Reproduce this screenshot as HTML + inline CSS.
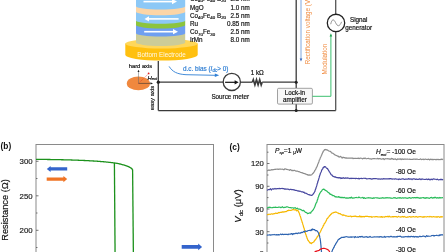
<!DOCTYPE html>
<html><head><meta charset="utf-8"><style>
html,body{margin:0;padding:0;background:#fff;width:448px;height:252px;overflow:hidden}
svg{display:block}
text{font-family:"Liberation Sans",Arial,sans-serif;stroke-width:0.18px}
</style></head><body>
<svg width="448" height="252" viewBox="0 0 448 252">
<!-- ============ PANEL A ============ -->
<!-- bottom electrode -->
<path d="M125.3,43.6 L125.3,54.8 A36.2,5.8 0 0 0 197.7,54.8 L197.7,43.6 Z" fill="#ffc010"/>
<ellipse cx="161.5" cy="43.6" rx="36.2" ry="4.9" fill="#ffd75a"/>
<text x="161.5" y="57.3" font-size="6.3" fill="#fff" text-anchor="middle" opacity="0.9">Bottom Electrode</text>
<!-- stack layers -->
<path d="M136,33.2 L136,42.5 A24.6,3.4 0 0 0 185.2,42.5 L185.2,33.2 Z" fill="#cccc98"/>
<path d="M136,25.0 L136,33.2 A24.6,3.4 0 0 0 185.2,33.2 L185.2,25.0 Z" fill="#6f9ff0"/>
<path d="M136,20.4 L136,25.0 A24.6,3.4 0 0 0 185.2,25.0 L185.2,20.4 Z" fill="#8cc43e"/>
<path d="M136,11.8 L136,20.4 A24.6,3.4 0 0 0 185.2,20.4 L185.2,11.8 Z" fill="#8cc8f6"/>
<path d="M136,6.2 L136,11.8 A24.6,3.4 0 0 0 185.2,11.8 L185.2,6.2 Z" fill="#fcd5a6"/>
<path d="M136,-10 L136,6.2 A24.6,3.4 0 0 0 185.2,6.2 L185.2,-10 Z" fill="#8cc8f6"/>
<!-- white arrows -->
<g stroke="#fff" stroke-width="1.6" fill="#fff">
<line x1="143.5" y1="1.6" x2="173" y2="1.6"/><path d="M172,-1 L177,1.6 L172,4.2 Z" stroke="none"/>
<line x1="148" y1="18.9" x2="178.6" y2="18.9"/><path d="M149,16.3 L144.5,18.9 L149,21.5 Z" stroke="none"/>
<line x1="144.2" y1="31.7" x2="174" y2="31.7"/><path d="M173,29.1 L178,31.7 L173,34.3 Z" stroke="none"/>
</g>
<!-- layer labels -->
<g font-size="6.3" fill="#111" stroke="#111">
<text x="190" y="0.8">Co<tspan font-size="4.4" dy="1.4">40</tspan><tspan dy="-1.4">Fe</tspan><tspan font-size="4.4" dy="1.4">40</tspan><tspan dy="-1.4"> B</tspan><tspan font-size="4.4" dy="1.4">20</tspan></text>
<text x="190" y="9.5">MgO</text>
<text x="190" y="17.7">Co<tspan font-size="4.4" dy="1.4">40</tspan><tspan dy="-1.4">Fe</tspan><tspan font-size="4.4" dy="1.4">40</tspan><tspan dy="-1.4"> B</tspan><tspan font-size="4.4" dy="1.4">20</tspan></text>
<text x="190" y="25.9">Ru</text>
<text x="190" y="34.1">Co<tspan font-size="4.4" dy="1.4">70</tspan><tspan dy="-1.4">Fe</tspan><tspan font-size="4.4" dy="1.4">30</tspan></text>
<text x="190" y="42.3">IrMn</text>
</g>
<g font-size="6.3" fill="#111" text-anchor="end" stroke="#111">
<text x="249.8" y="0.8">2.5 nm</text>
<text x="249.8" y="9.5">1.0 nm</text>
<text x="249.8" y="17.7">2.5 nm</text>
<text x="249.8" y="25.9">0.85 nm</text>
<text x="249.8" y="34.1">2.5 nm</text>
<text x="249.8" y="42.3">8.0 nm</text>
</g>
<!-- anisotropy ellipse -->
<ellipse cx="138.4" cy="83.4" rx="11.6" ry="6.9" fill="#f0883e"/>
<text x="128.8" y="67.9" font-size="5.75" fill="#111" stroke="#111">hard axis</text>
<line x1="138.5" y1="83.4" x2="138.5" y2="71.5" stroke="#666" stroke-width="0.5"/>
<path d="M137.5,72 L138.5,69.8 L139.5,72 Z" fill="#222"/>
<line x1="138.5" y1="83.4" x2="151" y2="83.4" stroke="#333" stroke-width="0.6"/>
<path d="M150.5,82.2 L153,83.4 L150.5,84.6 Z" fill="#222"/>
<line x1="138.5" y1="83.4" x2="148.2" y2="74" stroke="#e02020" stroke-width="0.5" stroke-dasharray="1,0.8"/>
<circle cx="148.6" cy="73.4" r="0.9" fill="#e02020"/>
<text x="147.4" y="79.5" font-size="6" font-style="italic" fill="#111" stroke="#111">H<tspan font-size="4" dy="0.7">ext</tspan></text>
<text transform="translate(153.7,110.3) rotate(-90)" font-size="5.85" fill="#111" stroke="#111">easy axis</text>
<!-- circuit -->
<g stroke="#3a3a3a" stroke-width="1.3" fill="none">
<line x1="158.3" y1="61" x2="158.3" y2="110.6"/>
<line x1="158.3" y1="110.6" x2="335.8" y2="110.6"/>
<line x1="158.3" y1="82.2" x2="223.2" y2="82.2"/>
<line x1="240.7" y1="82.2" x2="252.3" y2="82.2"/>
<polyline stroke-width="1.6" stroke-linejoin="miter" points="252.3,82.2 253.3,79.6 254.9,85 256.5,79.6 258.1,85 259.7,79.6 261.2,85 262.2,82.2"/>
<line x1="262.2" y1="82.2" x2="296.2" y2="82.2"/>
<line x1="296.2" y1="-2" x2="296.2" y2="88.3"/>
<line x1="296.2" y1="104.1" x2="296.2" y2="110.6"/>
<circle cx="231.8" cy="81.9" r="8.6"/>
</g>
<g stroke="#555" stroke-width="1.3" fill="none">
<line x1="335.7" y1="-2" x2="335.7" y2="14.3"/>
<line x1="335.7" y1="31.7" x2="335.7" y2="110.6"/>
<circle cx="336" cy="22.95" r="8.7" stroke="#222"/>
<path d="M330.7,24.2 C332,19 333.5,18.5 335.5,22.5 C337.5,26.8 339.5,27 341.6,21.8" stroke="#777" stroke-width="0.8"/>
</g>
<line x1="225.1" y1="82.3" x2="236" y2="82.3" stroke="#111" stroke-width="1.2"/>
<path d="M234.6,80.2 L238.7,82.3 L234.6,84.5 Z" fill="#111"/>
<g fill="#222"><circle cx="158.3" cy="82.2" r="1.6"/><circle cx="296.2" cy="82.2" r="1.5"/><circle cx="296.2" cy="110.6" r="1.5"/></g>
<rect x="277.5" y="88.3" width="34.9" height="15.8" rx="1.2" fill="#f7f7f7" stroke="#8a8a8a" stroke-width="0.8"/>
<g font-size="6.3" fill="#111" text-anchor="middle" stroke="#111">
<text x="294.9" y="95">Lock-in</text>
<text x="294.9" y="101.8">amplifier</text>
<text x="257.2" y="74.6">1 kΩ</text>
<text x="230.3" y="99.2">Source meter</text>
<text x="358.7" y="22">Signal</text>
<text x="358.7" y="29.8">generator</text>
</g>
<!-- dc bias -->
<path d="M169.1,66.4 C172.5,71.8 177,74.2 186,74.7 L215,75.3" stroke="#2f7fd4" stroke-width="0.9" fill="none"/>
<path d="M214.8,73.6 L219.2,75.3 L214.8,77 Z" fill="#2f7fd4"/>
<text x="182.9" y="71" font-size="6.4" fill="#2f7fd4" stroke="#2f7fd4">d.c. bias (<tspan font-style="italic">I</tspan><tspan font-size="4.6" dy="1.3" font-style="italic">dc</tspan><tspan dy="-1.3">&gt; 0)</tspan></text>
<!-- lock-in lines -->
<line x1="301" y1="-2" x2="301" y2="59" stroke="#7ea6df" stroke-width="1"/>
<path d="M299.7,58.5 L301,61.5 L302.3,58.5 Z" fill="#2d5fb8"/>
<polyline points="312.4,96.3 330.9,96.3 330.9,36" stroke="#3cc070" stroke-width="1" fill="none"/>
<path d="M329.6,36.5 L330.9,33.3 L332.2,36.5 Z" fill="#1c9e4c"/>
<text transform="translate(309.9,64.3) rotate(-90)" font-size="6.3" fill="#f0893c">Rectification voltage (V)</text>
<text transform="translate(326.9,74.6) rotate(-90)" font-size="6.3" fill="#f0893c">Modulation</text>

<!-- ============ PANEL B ============ -->
<text x="0.5" y="149" font-size="8.4" font-weight="bold" fill="#111">(b)</text>
<rect x="36" y="144.5" width="177.5" height="120" fill="none" stroke="#8a8a8a" stroke-width="1"/>
<g stroke="#555" stroke-width="0.8">
<line x1="36" y1="161.3" x2="38.5" y2="161.3"/><line x1="36" y1="195.8" x2="38.5" y2="195.8"/><line x1="36" y1="230.3" x2="38.5" y2="230.3"/>
<line x1="36" y1="178.5" x2="37.5" y2="178.5"/><line x1="36" y1="213" x2="37.5" y2="213"/><line x1="36" y1="247.5" x2="37.5" y2="247.5"/>
</g>
<g font-size="7.8" fill="#222" text-anchor="end" stroke="#222">
<text x="32.6" y="164.1">300</text>
<text x="32.6" y="198.6">250</text>
<text x="32.6" y="233.1">200</text>
</g>
<text transform="translate(7.9,240.8) rotate(-90)" font-size="9.3" fill="#111" stroke="#111">Resistance (Ω)</text>
<g stroke="#1c911c" stroke-width="1.3" fill="none">
<path d="M36.00,159.30 L36.38,159.31 L36.79,159.31 L37.25,159.32 L37.75,159.33 L38.28,159.34 L38.85,159.34 L39.45,159.35 L40.08,159.36 L40.74,159.37 L41.42,159.38 L42.13,159.39 L42.86,159.40 L43.61,159.41 L44.37,159.43 L45.15,159.44 L45.95,159.45 L46.75,159.46 L47.56,159.48 L48.38,159.49 L49.21,159.50 L50.03,159.51 L50.86,159.53 L51.68,159.54 L52.50,159.56 L53.32,159.57 L54.12,159.58 L54.91,159.60 L55.70,159.61 L56.46,159.63 L57.21,159.64 L57.94,159.66 L58.65,159.67 L59.34,159.69 L60.00,159.70 L60.78,159.72 L61.56,159.74 L62.34,159.75 L63.11,159.77 L63.88,159.79 L64.64,159.81 L65.40,159.83 L66.15,159.85 L66.90,159.87 L67.64,159.89 L68.38,159.91 L69.11,159.93 L69.84,159.95 L70.56,159.97 L71.28,160.00 L71.99,160.02 L72.69,160.04 L73.39,160.06 L74.08,160.09 L74.77,160.11 L75.45,160.13 L76.12,160.15 L76.78,160.18 L77.44,160.20 L78.09,160.23 L78.73,160.25 L79.37,160.28 L80.00,160.30 L80.83,160.33 L81.64,160.37 L82.45,160.40 L83.24,160.44 L84.02,160.48 L84.80,160.51 L85.56,160.55 L86.30,160.59 L87.04,160.63 L87.77,160.67 L88.48,160.71 L89.18,160.75 L89.88,160.79 L90.56,160.83 L91.22,160.87 L91.88,160.91 L92.53,160.94 L93.16,160.98 L93.79,161.02 L94.40,161.06 L95.00,161.10 L95.87,161.16 L96.70,161.21 L97.48,161.27 L98.24,161.32 L98.97,161.38 L99.67,161.43 L100.35,161.48 L101.02,161.54 L101.68,161.60 L102.33,161.65 L102.99,161.71 L103.65,161.77 L104.32,161.84 L105.00,161.90 L105.75,161.97 L106.52,162.05 L107.29,162.13 L108.06,162.20 L108.83,162.29 L109.60,162.37 L110.35,162.45 L111.09,162.53 L111.81,162.62 L112.50,162.70 L113.17,162.79 L113.80,162.87 L114.40,162.95 L115.29,163.08 L116.08,163.20 L116.80,163.33 L117.48,163.45 L118.11,163.58 L118.73,163.71 L119.35,163.85 L120.00,164.00 L120.75,164.18 L121.50,164.37 L122.24,164.57 L122.96,164.77 L123.66,164.98 L124.34,165.19 L125.00,165.40 L125.74,165.64 L126.46,165.89 L127.15,166.14 L127.81,166.39 L128.43,166.64 L129.00,166.90 L129.79,167.30 L130.49,167.71 L131.10,168.12 L131.60,168.50 L132.26,169.25 L132.60,169.80"/>
<line x1="114.4" y1="162.9" x2="115.1" y2="256"/>
<line x1="132.6" y1="169.6" x2="133.4" y2="256"/>
</g>
<!-- big arrows -->
<path d="M67.2,167.2 L50.6,167.2 L50.6,166 L46.8,168.9 L50.6,172 L50.6,170.6 L67.2,170.6 Z" fill="#3464cc"/>
<path d="M46.7,177.4 L63.4,177.4 L63.4,176 L67.2,179.1 L63.4,182.2 L63.4,180.8 L46.7,180.8 Z" fill="#f07424"/>
<path d="M181.7,245 L198.2,245 L198.2,243.6 L202.1,246.9 L198.2,250.3 L198.2,248.7 L181.7,248.7 Z" fill="#3464cc"/>

<!-- ============ PANEL C ============ -->
<text x="229.5" y="150.2" font-size="8.4" font-weight="bold" fill="#111">(c)</text>
<rect x="267" y="144.5" width="177" height="120" fill="none" stroke="#8a8a8a" stroke-width="1"/>
<g stroke="#555" stroke-width="0.8">
<line x1="267" y1="163.5" x2="269.5" y2="163.5"/><line x1="267" y1="186.3" x2="269.5" y2="186.3"/><line x1="267" y1="209" x2="269.5" y2="209"/><line x1="267" y1="231.7" x2="269.5" y2="231.7"/>
<line x1="267" y1="152.2" x2="268.5" y2="152.2"/><line x1="267" y1="175" x2="268.5" y2="175"/><line x1="267" y1="197.6" x2="268.5" y2="197.6"/><line x1="267" y1="220.3" x2="268.5" y2="220.3"/><line x1="267" y1="243" x2="268.5" y2="243"/>
</g>
<g font-size="7.7" fill="#222" text-anchor="end" stroke="#222">
<text x="263.8" y="166.3">120</text>
<text x="263.8" y="189.1">90</text>
<text x="263.8" y="211.8">60</text>
<text x="263.8" y="234.5">30</text>
<text x="263.8" y="256.4">0</text>
</g>
<text transform="translate(241.1,222.7) rotate(-90)" font-size="9.5" fill="#111" stroke="#111"><tspan font-style="italic">V</tspan><tspan font-size="6" dy="1.8">dc</tspan><tspan dy="-1.8"> (μV)</tspan></text>
<g fill="none" stroke-width="1.2" stroke-linejoin="round">
<path d="M267.00,170.59 L267.46,170.63 L268.08,170.41 L268.81,169.88 L269.62,170.30 L270.49,170.05 L271.36,169.68 L272.21,169.84 L273.00,169.69 L273.75,169.60 L274.50,169.46 L275.25,169.52 L276.00,169.15 L276.75,169.24 L277.50,169.13 L278.25,169.37 L279.00,169.21 L279.75,169.12 L280.50,169.00 L281.25,169.15 L282.00,169.24 L282.75,169.20 L283.50,169.63 L284.25,169.60 L285.00,168.72 L285.75,168.98 L286.50,169.46 L287.25,169.46 L288.00,169.68 L288.75,169.76 L289.50,170.32 L290.25,169.61 L291.00,169.91 L291.75,170.64 L292.50,170.43 L293.25,170.58 L294.00,170.45 L294.75,170.34 L295.50,170.97 L296.25,171.14 L297.00,170.99 L297.75,171.32 L298.50,171.67 L299.25,171.65 L300.00,172.08 L300.75,172.34 L301.50,172.55 L302.25,172.64 L303.00,173.15 L303.68,173.46 L304.38,173.58 L305.09,173.58 L305.80,174.26 L306.50,174.24 L307.19,174.84 L307.83,174.57 L308.44,175.23 L309.00,175.09 L309.85,174.86 L310.56,175.07 L311.18,175.00 L311.81,174.68 L312.50,173.75 L312.88,173.31 L313.27,173.15 L313.66,172.44 L314.06,172.02 L314.47,171.50 L314.88,170.20 L315.28,169.94 L315.69,169.42 L316.10,168.24 L316.50,167.30 L316.77,167.12 L317.04,166.38 L317.32,165.89 L317.59,164.90 L317.87,163.92 L318.15,163.55 L318.42,162.74 L318.70,162.32 L318.97,161.45 L319.24,160.28 L319.51,159.69 L319.76,159.54 L320.02,158.84 L320.26,157.91 L320.50,157.50 L320.88,156.72 L321.25,155.88 L321.60,155.17 L321.94,154.25 L322.27,153.45 L322.59,152.75 L322.90,152.48 L323.20,151.11 L323.50,151.17 L324.10,150.41 L324.64,149.57 L325.18,149.78 L325.80,149.44 L326.52,149.88 L327.29,149.90 L328.12,150.50 L329.00,151.10 L329.61,151.26 L330.24,151.37 L330.89,151.67 L331.56,152.98 L332.27,153.00 L333.00,153.33 L333.57,153.89 L334.17,154.18 L334.78,154.82 L335.40,155.00 L336.04,155.36 L336.68,155.52 L337.34,156.14 L338.00,156.04 L338.67,156.71 L339.34,157.13 L340.02,156.55 L340.71,156.47 L341.42,157.38 L342.13,158.00 L342.86,157.23 L343.60,157.29 L344.15,157.84 L344.52,157.57 L344.80,157.73 L345.09,157.83 L345.49,158.10 L346.09,157.92 L346.98,158.15 L348.25,158.09 L350.00,157.99 L350.45,158.13 L350.92,157.99 L351.42,158.24 L351.94,157.98 L352.48,158.00 L353.05,158.65 L353.63,158.29 L354.24,158.30 L354.87,158.46 L355.51,158.24 L356.17,158.30 L356.85,158.48 L357.54,158.46 L358.25,158.11 L358.97,158.63 L359.71,158.29 L360.45,158.18 L361.21,158.24 L361.97,158.38 L362.74,158.90 L363.52,158.21 L364.31,158.56 L365.11,158.00 L365.90,158.55 L366.71,158.79 L367.51,158.52 L368.32,158.44 L369.13,158.67 L369.93,158.80 L370.74,158.80 L371.55,159.14 L372.35,158.72 L373.15,158.53 L373.94,158.66 L374.73,158.69 L375.51,158.75 L376.28,158.73 L377.05,158.79 L377.80,158.34 L378.55,158.98 L379.28,158.64 L380.00,158.51 L380.71,158.97 L381.43,159.16 L382.14,158.96 L382.84,158.89 L383.55,158.63 L384.26,159.60 L384.97,159.11 L385.67,158.62 L386.37,158.72 L387.08,158.95 L387.78,158.55 L388.48,159.00 L389.19,158.85 L389.89,159.29 L390.59,159.23 L391.29,158.33 L392.00,159.03 L392.70,158.63 L393.40,159.32 L394.11,159.10 L394.81,159.21 L395.52,158.81 L396.23,159.55 L396.93,159.61 L397.64,158.85 L398.35,159.22 L399.06,158.97 L399.78,159.15 L400.49,158.85 L401.21,159.64 L401.93,158.94 L402.65,159.12 L403.37,159.33 L404.10,159.06 L404.83,159.17 L405.56,159.10 L406.29,159.22 L407.03,158.97 L407.76,159.16 L408.51,159.23 L409.25,159.21 L410.00,159.31 L410.68,159.24 L411.37,159.51 L412.09,159.24 L412.81,159.30 L413.55,159.18 L414.30,159.22 L415.06,159.04 L415.84,159.50 L416.62,159.09 L417.41,159.20 L418.21,159.48 L419.01,159.50 L419.82,159.31 L420.64,158.91 L421.45,159.53 L422.27,159.49 L423.09,159.08 L423.91,159.64 L424.73,159.27 L425.55,159.18 L426.36,159.49 L427.17,159.43 L427.98,159.53 L428.77,159.08 L429.56,159.94 L430.35,159.35 L431.12,159.12 L431.88,159.66 L432.63,159.43 L433.37,159.60 L434.09,159.44 L434.81,159.52 L435.50,159.60 L436.18,159.36 L436.84,159.72 L437.48,159.44 L438.10,159.34 L438.70,159.58 L439.28,159.68 L439.84,159.52 L440.37,159.36 L440.88,159.74 L441.36,159.15 L441.81,159.33 L442.24,159.60 L442.63,159.26 L443.00,159.61" stroke="#8c8c8c"/>
<path d="M267.00,189.99 L267.46,190.14 L268.05,189.58 L268.77,189.52 L269.56,189.61 L270.41,188.76 L271.29,190.01 L272.16,188.93 L273.00,188.82 L273.65,189.15 L274.32,188.86 L275.00,188.36 L275.68,188.91 L276.38,188.91 L277.08,188.55 L277.80,188.56 L278.52,188.73 L279.25,188.37 L280.00,188.71 L280.69,188.66 L281.39,188.47 L282.11,188.33 L282.84,188.67 L283.57,188.56 L284.31,189.09 L285.05,188.94 L285.79,189.17 L286.53,189.08 L287.27,189.19 L288.00,189.00 L288.73,189.44 L289.45,189.80 L290.18,189.35 L290.91,189.36 L291.64,189.56 L292.36,189.57 L293.09,189.62 L293.82,189.93 L294.55,189.95 L295.27,190.51 L296.00,190.30 L296.73,190.54 L297.47,190.88 L298.21,190.75 L298.96,191.39 L299.70,191.08 L300.44,191.26 L301.18,191.59 L301.90,191.88 L302.62,191.79 L303.32,192.36 L304.00,192.18 L304.74,193.23 L305.49,193.19 L306.23,193.41 L306.96,193.71 L307.67,194.20 L308.36,194.58 L309.03,194.66 L309.66,194.91 L310.25,195.22 L310.80,195.17 L311.49,195.44 L312.09,195.27 L312.62,194.66 L313.10,194.32 L313.56,193.27 L314.02,193.03 L314.50,191.99 L314.73,191.65 L314.96,191.40 L315.19,189.85 L315.42,189.87 L315.64,188.87 L315.86,188.61 L316.08,187.42 L316.30,186.90 L316.52,186.34 L316.74,185.70 L316.95,184.82 L317.17,183.88 L317.38,183.22 L317.59,182.89 L317.80,182.00 L318.02,180.88 L318.24,180.79 L318.46,179.96 L318.67,179.35 L318.89,178.32 L319.10,177.89 L319.31,176.70 L319.52,176.41 L319.73,175.45 L319.94,175.08 L320.15,174.51 L320.36,173.46 L320.58,173.04 L320.80,172.51 L321.15,171.97 L321.49,171.05 L321.84,169.80 L322.19,169.50 L322.55,168.91 L322.90,168.68 L323.26,167.23 L323.63,167.13 L324.00,167.33 L324.68,166.50 L325.38,166.72 L326.09,167.60 L326.80,168.35 L327.50,168.63 L327.89,169.39 L328.28,169.84 L328.67,170.81 L329.06,171.10 L329.44,172.04 L329.83,172.24 L330.22,173.07 L330.61,173.67 L331.00,174.48 L331.56,174.97 L332.09,175.17 L332.62,175.99 L333.19,176.41 L333.80,176.55 L334.50,176.84 L335.06,177.07 L335.63,176.88 L336.22,177.51 L336.84,177.66 L337.52,177.50 L338.26,178.00 L339.08,177.57 L340.00,177.86 L340.48,177.93 L340.84,178.58 L341.12,177.71 L341.36,178.27 L341.60,178.39 L341.87,178.26 L342.22,178.47 L342.68,177.93 L343.29,177.63 L344.10,178.40 L345.13,177.92 L346.43,178.16 L348.04,177.97 L350.00,178.56 L350.43,178.52 L350.88,178.13 L351.34,178.55 L351.82,178.36 L352.32,178.30 L352.83,178.36 L353.36,178.30 L353.90,178.52 L354.45,178.45 L355.02,178.29 L355.60,178.64 L356.20,178.24 L356.81,178.48 L357.43,178.52 L358.06,178.79 L358.70,178.31 L359.35,178.88 L360.02,178.50 L360.69,178.42 L361.38,178.31 L362.07,178.63 L362.77,178.51 L363.48,178.23 L364.20,178.23 L364.93,178.39 L365.67,178.37 L366.41,178.82 L367.15,178.90 L367.91,178.78 L368.67,178.67 L369.44,178.48 L370.21,178.61 L370.98,178.83 L371.76,179.15 L372.54,178.86 L373.33,178.57 L374.12,178.66 L374.91,178.54 L375.71,178.48 L376.51,178.64 L377.30,178.75 L378.10,179.17 L378.90,178.73 L379.70,179.07 L380.51,179.18 L381.31,178.77 L382.10,179.17 L382.90,178.95 L383.70,178.68 L384.49,178.86 L385.28,178.81 L386.07,178.76 L386.86,178.78 L387.64,178.87 L388.42,178.96 L389.19,178.64 L389.96,178.87 L390.72,178.50 L391.48,178.95 L392.24,179.05 L392.98,178.95 L393.72,178.99 L394.45,179.08 L395.18,178.77 L395.89,178.89 L396.60,179.08 L397.30,179.22 L397.99,179.07 L398.67,179.62 L399.34,178.97 L400.00,179.25 L400.77,179.33 L401.54,178.99 L402.32,178.82 L403.11,178.74 L403.90,179.09 L404.70,179.34 L405.50,179.14 L406.31,179.12 L407.12,178.99 L407.93,179.24 L408.75,178.57 L409.57,179.18 L410.39,179.14 L411.22,178.80 L412.04,179.69 L412.87,178.81 L413.70,178.90 L414.52,178.88 L415.35,179.46 L416.17,178.97 L416.99,179.37 L417.81,179.36 L418.63,179.29 L419.44,178.91 L420.25,179.09 L421.06,179.67 L421.86,178.94 L422.66,179.06 L423.45,179.24 L424.23,179.49 L425.01,179.36 L425.79,179.49 L426.55,179.05 L427.31,179.56 L428.05,179.47 L428.79,178.94 L429.52,179.73 L430.24,179.93 L430.95,179.17 L431.65,179.39 L432.34,179.73 L433.02,179.02 L433.68,178.90 L434.33,179.08 L434.97,179.27 L435.59,179.27 L436.20,179.58 L436.80,179.50 L437.38,179.12 L437.94,179.58 L438.49,179.92 L439.03,179.75 L439.54,179.71 L440.04,179.47 L440.52,179.72 L440.98,179.24 L441.43,179.67 L441.85,179.46 L442.25,179.77 L442.64,179.61 L443.00,179.23" stroke="#4848a0"/>
<path d="M267.00,207.73 L267.43,207.98 L267.97,207.37 L268.60,207.47 L269.32,207.38 L270.10,207.15 L270.91,207.72 L271.75,207.77 L272.60,207.60 L273.44,207.42 L274.24,207.31 L275.00,207.36 L275.73,207.10 L276.47,207.48 L277.21,207.50 L277.95,207.46 L278.69,207.08 L279.43,207.22 L280.16,207.15 L280.89,207.64 L281.61,207.23 L282.31,206.72 L283.00,207.30 L283.74,207.68 L284.45,207.39 L285.14,207.44 L285.82,207.24 L286.50,206.76 L287.18,206.82 L287.86,207.00 L288.55,207.33 L289.26,207.50 L290.00,207.67 L290.70,207.50 L291.42,207.93 L292.16,207.74 L292.92,207.76 L293.68,208.29 L294.44,207.99 L295.20,207.68 L295.94,208.26 L296.65,208.70 L297.34,208.07 L298.00,208.91 L298.76,209.12 L299.49,209.05 L300.19,209.24 L300.87,209.72 L301.53,209.92 L302.16,210.60 L302.79,210.61 L303.40,210.36 L304.00,210.79 L304.75,211.55 L305.48,212.30 L306.17,212.40 L306.85,212.83 L307.51,213.59 L308.16,213.35 L308.80,213.32 L309.43,212.91 L310.05,212.89 L310.65,213.19 L311.25,211.80 L311.83,211.55 L312.42,210.48 L313.00,210.03 L313.29,209.75 L313.59,208.94 L313.89,208.61 L314.19,207.99 L314.48,207.27 L314.78,206.91 L315.07,205.98 L315.37,205.00 L315.65,204.20 L315.94,203.45 L316.21,203.08 L316.48,202.20 L316.75,202.31 L317.00,201.46 L317.28,200.23 L317.55,199.47 L317.81,199.25 L318.05,197.62 L318.29,197.26 L318.53,196.89 L318.76,195.74 L318.99,195.18 L319.23,194.57 L319.48,194.23 L319.73,193.54 L320.00,193.10 L320.48,192.36 L320.99,191.52 L321.51,191.17 L322.04,190.20 L322.57,189.61 L323.09,189.23 L323.60,189.09 L324.28,189.39 L324.92,190.09 L325.57,190.37 L326.25,190.77 L327.00,191.23 L327.50,191.74 L328.00,192.20 L328.52,192.63 L329.06,192.89 L329.62,193.61 L330.21,194.45 L330.83,194.08 L331.50,194.94 L332.10,194.76 L332.70,195.61 L333.31,195.64 L333.95,195.54 L334.62,196.30 L335.35,196.93 L336.15,196.69 L337.03,197.13 L338.00,196.98 L338.50,196.54 L338.93,197.28 L339.30,197.12 L339.64,196.92 L339.97,197.54 L340.30,197.47 L340.65,197.31 L341.06,197.71 L341.52,197.32 L342.08,197.73 L342.74,197.38 L343.52,197.78 L344.45,197.40 L345.54,198.08 L346.81,197.80 L348.30,198.13 L350.00,197.59 L350.44,197.69 L350.91,198.02 L351.38,197.13 L351.87,197.56 L352.38,198.09 L352.90,197.96 L353.44,198.09 L353.99,197.77 L354.55,198.00 L355.13,197.68 L355.72,197.53 L356.32,197.45 L356.93,197.74 L357.55,197.75 L358.19,197.73 L358.84,197.01 L359.49,197.40 L360.16,197.77 L360.84,197.98 L361.52,197.77 L362.22,197.70 L362.92,197.34 L363.63,198.43 L364.35,197.65 L365.08,198.35 L365.81,198.32 L366.55,198.01 L367.30,197.80 L368.05,197.98 L368.81,197.66 L369.57,198.02 L370.34,197.95 L371.11,198.09 L371.89,198.20 L372.67,198.39 L373.45,197.87 L374.24,198.23 L375.03,197.77 L375.82,197.75 L376.61,197.82 L377.41,197.73 L378.20,198.22 L379.00,198.21 L379.79,198.30 L380.59,197.98 L381.39,198.05 L382.18,197.84 L382.97,197.70 L383.76,198.10 L384.55,198.06 L385.34,197.71 L386.13,198.14 L386.91,197.56 L387.68,197.95 L388.46,197.84 L389.23,197.86 L389.99,197.72 L390.75,198.23 L391.51,198.14 L392.26,198.29 L393.00,198.03 L393.73,197.67 L394.46,197.90 L395.18,197.70 L395.90,198.11 L396.60,198.30 L397.30,198.08 L397.99,197.85 L398.67,197.90 L399.34,198.05 L400.00,197.63 L400.77,198.03 L401.54,198.05 L402.32,197.86 L403.11,197.89 L403.90,198.04 L404.70,197.79 L405.50,197.78 L406.31,198.18 L407.12,198.04 L407.93,198.40 L408.75,197.73 L409.57,197.53 L410.39,198.21 L411.22,198.21 L412.04,197.78 L412.87,197.60 L413.70,197.95 L414.52,197.52 L415.35,197.87 L416.17,197.40 L416.99,197.89 L417.81,197.41 L418.63,197.88 L419.44,198.31 L420.25,197.86 L421.06,198.12 L421.86,197.76 L422.66,197.69 L423.45,197.54 L424.23,198.17 L425.01,197.89 L425.79,198.30 L426.55,197.60 L427.31,197.83 L428.05,197.90 L428.79,198.23 L429.52,198.33 L430.24,197.70 L430.95,197.58 L431.65,197.42 L432.34,198.19 L433.02,197.83 L433.68,197.68 L434.33,197.83 L434.97,197.20 L435.59,197.40 L436.20,198.06 L436.80,197.92 L437.38,197.86 L437.94,197.57 L438.49,197.96 L439.03,198.25 L439.54,197.50 L440.04,197.81 L440.52,197.69 L440.98,197.89 L441.43,197.80 L441.85,197.76 L442.25,197.57 L442.64,197.78 L443.00,197.63" stroke="#2cbc5c"/>
<path d="M267.00,214.55 L267.43,214.51 L267.97,214.62 L268.60,214.23 L269.32,214.20 L270.10,214.45 L270.91,214.02 L271.75,213.90 L272.60,214.06 L273.44,213.79 L274.24,213.63 L275.00,213.54 L275.73,213.06 L276.47,213.36 L277.21,213.44 L277.95,213.12 L278.69,212.45 L279.43,212.78 L280.16,212.34 L280.89,212.37 L281.61,212.31 L282.31,211.84 L283.00,212.32 L283.75,211.81 L284.50,211.84 L285.24,211.62 L285.97,211.61 L286.69,211.39 L287.39,210.54 L288.08,210.74 L288.74,210.04 L289.39,210.31 L290.00,210.47 L290.83,210.34 L291.62,210.26 L292.36,209.69 L293.07,209.74 L293.74,209.60 L294.38,209.86 L295.00,209.99 L295.81,209.62 L296.54,210.82 L297.22,210.17 L297.87,210.59 L298.50,211.64 L298.76,212.13 L299.01,212.60 L299.25,212.89 L299.49,214.06 L299.72,214.38 L299.95,215.47 L300.18,216.16 L300.40,216.25 L300.62,217.07 L300.85,217.81 L301.07,218.85 L301.30,219.51 L301.53,220.25 L301.76,220.68 L301.99,221.69 L302.21,222.64 L302.44,222.67 L302.67,223.67 L302.89,224.49 L303.12,225.11 L303.34,225.81 L303.56,227.02 L303.78,227.61 L304.00,228.21 L304.22,228.53 L304.43,230.02 L304.65,230.31 L304.87,230.83 L305.08,231.66 L305.29,232.37 L305.50,233.77 L305.71,234.01 L305.91,234.67 L306.11,234.77 L306.31,236.11 L306.50,236.23 L306.81,237.09 L307.10,238.29 L307.38,238.61 L307.65,239.65 L307.92,240.28 L308.20,240.06 L308.50,240.96 L309.03,241.41 L309.58,242.47 L310.15,243.20 L310.80,242.86 L311.35,243.66 L311.91,243.02 L312.52,242.52 L313.20,242.27 L314.00,241.69 L314.35,240.74 L314.72,240.61 L315.12,239.74 L315.54,239.80 L315.98,238.92 L316.42,238.12 L316.87,237.81 L317.32,236.54 L317.76,236.07 L318.20,235.93 L318.62,234.76 L319.02,234.47 L319.40,233.54 L319.79,232.65 L320.16,232.09 L320.52,231.48 L320.87,230.68 L321.22,229.89 L321.55,229.22 L321.88,228.37 L322.20,228.09 L322.53,227.50 L322.85,226.94 L323.17,225.66 L323.50,225.70 L323.86,224.82 L324.21,223.81 L324.56,223.54 L324.91,223.08 L325.25,222.37 L325.60,221.81 L325.94,221.26 L326.28,220.66 L326.62,219.86 L326.96,218.80 L327.30,218.60 L327.76,218.19 L328.22,217.32 L328.67,216.97 L329.12,216.40 L329.57,215.65 L330.04,215.58 L330.51,214.39 L331.00,214.43 L331.68,213.55 L332.37,213.00 L333.09,212.95 L333.81,212.34 L334.55,212.50 L335.30,211.90 L335.90,212.25 L336.46,212.18 L337.01,212.57 L337.59,212.84 L338.26,212.98 L339.05,213.75 L340.00,213.58 L340.50,213.80 L340.98,214.43 L341.43,214.62 L341.89,214.73 L342.36,214.83 L342.87,215.50 L343.42,214.81 L344.04,215.11 L344.74,215.23 L345.53,215.87 L346.44,215.88 L347.48,216.23 L348.66,216.33 L350.00,216.14 L350.48,216.02 L350.96,216.01 L351.45,216.85 L351.94,216.56 L352.44,216.50 L352.95,216.29 L353.46,216.35 L353.98,216.34 L354.51,216.37 L355.05,215.87 L355.59,216.47 L356.15,216.41 L356.72,216.60 L357.30,216.60 L357.89,216.77 L358.49,216.57 L359.10,216.79 L359.73,215.96 L360.37,216.34 L361.02,217.06 L361.69,216.34 L362.37,216.58 L363.07,216.84 L363.78,216.45 L364.52,216.86 L365.26,216.33 L366.03,216.22 L366.81,216.37 L367.62,216.30 L368.44,216.71 L369.28,216.65 L370.14,216.81 L371.03,216.48 L371.93,217.38 L372.86,216.73 L373.81,216.75 L374.78,216.88 L375.77,216.71 L376.79,216.62 L377.84,216.80 L378.91,217.02 L380.00,216.96 L380.52,217.04 L381.06,216.66 L381.62,216.61 L382.19,217.31 L382.77,216.75 L383.37,216.93 L383.98,217.00 L384.61,217.17 L385.25,216.48 L385.90,216.70 L386.56,216.72 L387.23,216.75 L387.92,216.23 L388.61,216.81 L389.32,216.11 L390.04,216.91 L390.76,216.97 L391.50,216.99 L392.24,216.54 L392.99,217.08 L393.75,216.62 L394.52,216.53 L395.29,216.60 L396.08,216.63 L396.86,216.88 L397.66,217.05 L398.46,216.32 L399.26,216.71 L400.07,217.07 L400.89,216.89 L401.71,216.97 L402.53,216.47 L403.36,217.08 L404.18,216.45 L405.01,216.89 L405.85,217.18 L406.68,217.31 L407.52,216.97 L408.36,217.06 L409.19,216.69 L410.03,216.72 L410.87,217.13 L411.71,216.84 L412.54,216.81 L413.38,216.48 L414.21,216.87 L415.04,217.00 L415.86,216.64 L416.69,216.71 L417.51,217.23 L418.33,216.88 L419.14,216.76 L419.95,216.55 L420.75,216.67 L421.55,216.77 L422.34,217.17 L423.13,216.67 L423.91,217.27 L424.68,216.59 L425.44,216.73 L426.20,217.03 L426.95,216.76 L427.69,216.61 L428.42,216.78 L429.14,216.93 L429.86,216.39 L430.56,216.75 L431.25,216.79 L431.93,216.71 L432.60,217.00 L433.26,216.67 L433.90,216.72 L434.54,216.82 L435.16,216.99 L435.76,216.75 L436.36,217.19 L436.94,216.58 L437.50,217.13 L438.05,216.59 L438.58,216.76 L439.10,216.89 L439.61,217.32 L440.09,217.03 L440.56,216.70 L441.01,217.13 L441.45,216.75 L441.86,216.60 L442.26,216.91 L442.64,216.82 L443.00,217.04" stroke="#f6b800"/>
<path d="M267.00,234.86 L267.40,235.08 L267.86,235.13 L268.39,235.02 L268.98,234.92 L269.61,234.73 L270.30,235.10 L271.02,234.89 L271.78,234.95 L272.56,234.71 L273.37,234.77 L274.20,234.47 L275.04,234.72 L275.88,234.86 L276.73,234.66 L277.57,234.82 L278.40,234.65 L279.21,234.87 L280.00,234.45 L280.68,234.06 L281.37,234.56 L282.08,234.38 L282.81,234.16 L283.54,234.54 L284.29,234.43 L285.04,234.45 L285.79,234.24 L286.55,234.35 L287.31,234.34 L288.07,234.69 L288.82,234.05 L289.56,234.19 L290.30,234.25 L291.02,233.69 L291.73,233.68 L292.43,234.58 L293.10,233.54 L293.76,234.07 L294.39,233.66 L295.00,233.61 L295.87,233.19 L296.71,233.33 L297.52,233.60 L298.29,232.90 L299.04,233.23 L299.76,232.98 L300.46,233.22 L301.14,232.42 L301.81,232.67 L302.46,232.39 L303.11,231.92 L303.74,231.40 L304.37,232.03 L305.00,231.16 L305.80,231.19 L306.58,231.33 L307.36,231.18 L308.12,230.49 L308.85,230.49 L309.56,230.25 L310.25,230.44 L310.90,230.62 L311.51,229.40 L312.08,229.99 L312.60,228.99 L313.77,229.68 L314.62,229.55 L315.31,230.62 L316.00,230.54 L316.57,230.64 L317.10,231.04 L317.59,231.45 L318.06,232.23 L318.50,232.96 L318.71,233.66 L318.91,234.42 L319.11,234.79 L319.30,234.93 L319.48,235.50 L319.66,236.44 L319.83,237.65 L319.99,238.12 L320.15,238.91 L320.30,240.03 L320.39,240.23 L320.47,240.95 L320.56,242.05 L320.64,242.57 L320.72,243.29 L320.80,244.27 L320.87,244.84 L320.95,245.61 L321.02,246.47 L321.09,247.53 L321.15,248.17 L321.22,248.61 L321.28,249.55 L321.34,250.46 L321.39,251.39 L321.45,251.21 L321.50,252.08 L321.65,253.31 L321.77,254.57 L321.87,255.18 L321.94,255.95 L322.00,256.13" stroke="#2e64b0"/>
<path d="M331.00,255.86 L331.09,255.33 L331.20,254.81 L331.36,253.93 L331.55,253.50 L331.80,252.42 L332.02,251.09 L332.27,250.84 L332.54,249.78 L332.84,249.05 L333.15,249.00 L333.47,248.30 L333.80,247.24 L334.14,247.24 L334.48,245.91 L334.85,245.17 L335.22,244.94 L335.60,244.15 L336.00,243.40 L336.40,242.78 L336.81,242.23 L337.23,241.51 L337.66,240.88 L338.10,239.85 L338.56,239.43 L339.02,239.40 L339.50,238.62 L340.15,238.41 L340.79,238.14 L341.47,237.40 L342.25,237.28 L343.20,237.52 L343.69,237.10 L344.06,237.34 L344.38,237.26 L344.74,237.08 L345.22,236.89 L345.90,236.74 L346.87,236.70 L348.21,237.12 L350.00,237.12 L350.45,236.95 L350.92,237.21 L351.40,236.84 L351.91,237.27 L352.44,237.00 L352.98,236.97 L353.54,236.98 L354.12,236.95 L354.71,237.59 L355.32,236.57 L355.95,237.01 L356.59,237.27 L357.24,237.14 L357.91,236.88 L358.59,237.38 L359.29,236.68 L359.99,236.61 L360.71,237.08 L361.44,236.57 L362.18,236.33 L362.93,237.14 L363.68,237.10 L364.45,237.09 L365.23,236.78 L366.01,236.94 L366.80,236.65 L367.60,237.32 L368.40,237.08 L369.21,237.06 L370.02,236.38 L370.84,237.07 L371.67,237.23 L372.49,237.16 L373.32,237.04 L374.15,236.84 L374.99,236.75 L375.82,236.98 L376.66,236.92 L377.49,236.88 L378.33,236.73 L379.17,237.23 L380.00,236.51 L380.62,236.79 L381.25,236.65 L381.89,237.05 L382.54,237.14 L383.20,237.09 L383.87,236.97 L384.55,236.43 L385.24,237.29 L385.93,236.90 L386.64,236.74 L387.35,236.77 L388.06,236.68 L388.78,236.87 L389.51,236.84 L390.25,236.67 L390.98,236.11 L391.73,236.75 L392.47,236.87 L393.22,236.88 L393.98,236.71 L394.73,236.86 L395.49,237.00 L396.25,236.63 L397.01,237.11 L397.77,236.25 L398.53,236.42 L399.30,236.51 L400.06,236.12 L400.82,236.48 L401.58,237.04 L402.34,237.03 L403.09,236.74 L403.84,237.15 L404.59,236.77 L405.34,236.58 L406.08,236.76 L406.82,236.66 L407.56,236.88 L408.28,236.31 L409.01,236.93 L409.72,236.56 L410.43,236.88 L411.14,236.27 L411.83,236.55 L412.52,236.66 L413.20,236.86 L413.87,236.32 L414.53,237.03 L415.18,236.73 L415.82,236.46 L416.46,236.89 L417.08,236.60 L417.69,236.85 L418.28,237.13 L418.87,236.72 L419.44,236.38 L420.00,236.39 L420.98,236.62 L421.95,236.51 L422.90,236.19 L423.85,236.19 L424.78,236.48 L425.69,236.86 L426.60,235.57 L427.48,236.36 L428.36,236.07 L429.22,236.26 L430.06,236.23 L430.88,235.97 L431.69,235.65 L432.48,235.50 L433.25,235.32 L434.00,236.04 L434.73,235.62 L435.44,235.48 L436.14,235.49 L436.81,235.17 L437.46,235.53 L438.08,235.73 L438.69,235.63 L439.27,234.91 L439.82,235.59 L440.35,235.01 L440.86,234.69 L441.34,234.82 L441.80,234.85 L442.23,235.05 L442.63,234.77 L443.00,234.62" stroke="#2e64b0"/>
<path d="M314.00,255.97 L314.06,255.61 L314.13,254.49 L314.24,253.65 L314.45,252.71 L314.80,252.27 L315.36,251.37 L316.09,251.37 L316.90,250.92 L317.70,250.79 L318.40,250.59 L319.11,250.51 L319.72,249.67 L320.33,249.15 L321.00,249.13 L321.75,248.65 L322.54,248.49 L323.36,248.39 L324.20,248.41 L324.92,248.51 L325.70,248.76 L326.47,249.06 L327.19,249.43 L327.80,249.66 L328.41,250.09 L328.90,250.57 L329.29,251.34 L329.60,252.00 L329.78,252.81 L329.88,253.72 L329.94,254.77 L329.97,255.45 L330.00,256.08" stroke="#e8101a"/>
</g>
<text x="275" y="153" font-size="6.6" fill="#111" stroke="#111"><tspan font-style="italic">P</tspan><tspan font-size="4.2" dy="1.3" font-style="italic">sp</tspan><tspan dy="-1.3">=1 </tspan><tspan font-size="4.6" dy="0.8">μ</tspan><tspan dy="-0.8">W</tspan></text>
<g font-size="6.6" fill="#111" text-anchor="end" stroke="#111">
<text x="415.9" y="154.3"><tspan font-style="italic">H</tspan><tspan font-size="4.2" dy="1.3" font-style="italic">ext</tspan><tspan dy="-1.3">= -100 Oe</tspan></text>
<text x="415.9" y="173.8">-80 Oe</text>
<text x="415.9" y="193.1">-60 Oe</text>
<text x="415.9" y="213.3">-50 Oe</text>
<text x="415.9" y="231.8">-40 Oe</text>
<text x="415.9" y="251.5">-30 Oe</text>
</g>
</svg>
</body></html>
